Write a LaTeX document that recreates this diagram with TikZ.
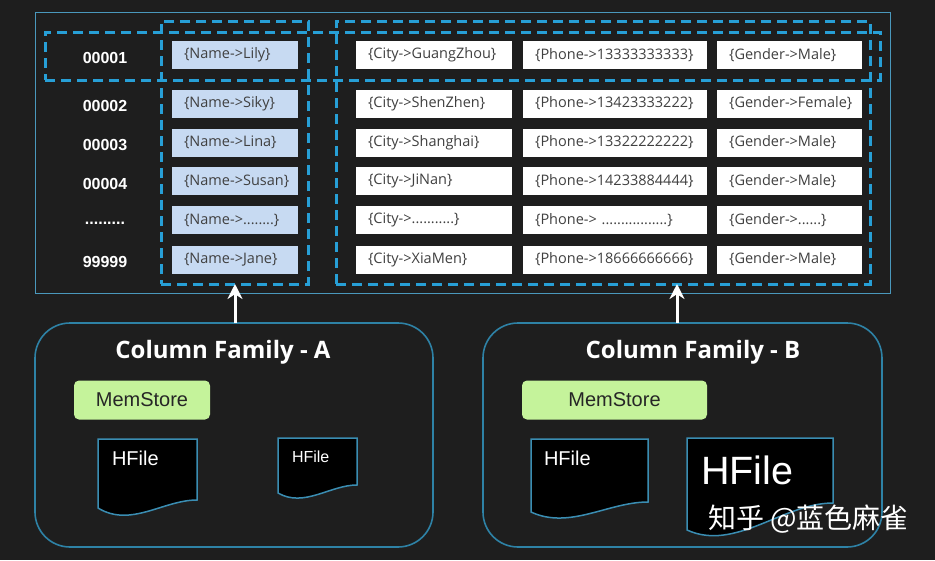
\documentclass[tikz,border=0pt]{standalone}
\usepackage{fontspec}
\setmainfont{Liberation Sans}
\newfontfamily\titlefont{Open Sans}
\newfontfamily\cellfont{Open Sans}
\newfontfamily\cjkfont{Noto Sans CJK SC}
\usetikzlibrary{arrows.meta}
\definecolor{bg}{HTML}{1E1E1E}
\definecolor{dashblue}{HTML}{279FD6}
\definecolor{framecol}{HTML}{4A98BC}
\definecolor{cfcol}{HTML}{2E82A6}
\definecolor{namefill}{HTML}{C7DAF2}
\definecolor{memgreen}{HTML}{C5F39B}
\definecolor{celltext}{HTML}{404040}
\definecolor{hfileborder}{HTML}{3A8DB2}
\newcommand\fs[1]{\fontsize{#1}{#1}\selectfont}
\newcommand\docpath[7]{% name, x1, ytop, x2, yright, yleft, ctrl
  \draw[hfilebox] (#2,#3) -- (#4,#3) -- (#4,#5)
    .. controls ({#2+0.66*(#4-#2)},#5) and ({#2+0.33*(#4-#2)},#7) .. (#2,#6) -- cycle;
  \coordinate (#1) at (#2,#3);}
\begin{document}
\begin{tikzpicture}[x=1pt,y=-1pt,
  every node/.style={inner sep=0pt, outer sep=0pt},
  key/.style={text=white, font=\fs{16}\bfseries},
  cell/.style={minimum height=28pt, anchor=west, inner xsep=12pt, text=celltext,
    font=\cellfont\fs{14.5}, align=left},
  namecell/.style={cell, fill=namefill, text width=102pt},
  citycell/.style={cell, fill=white, text width=132pt},
  phonecell/.style={cell, fill=white, text width=160pt},
  gendercell/.style={cell, fill=white, text width=121pt},
  dashbox/.style={draw=dashblue, line width=3pt, dash pattern=on 10pt off 6pt, rectangle},
  tableframe/.style={draw=framecol, line width=1pt, rectangle},
  cfbox/.style={draw=cfcol, line width=1.6pt, rounded corners=35pt, rectangle},
  cftitle/.style={text=white, font=\titlefont\bfseries\fs{24}},
  memstore/.style={fill=memgreen, rounded corners=5pt, minimum height=39pt,
    text=black!85, font=\fs{20}},
  hfilebox/.style={draw=hfileborder, line width=1.5pt, fill=black},
  hfiletext/.style={text=white, anchor=west},
  arr/.style={draw=white, line width=3pt, -{Stealth[length=15pt,width=15pt]}},
]
\fill[bg] (0,0) rectangle (935,560);
\useasboundingbox (0,0) rectangle (935,560);

% table frame
\node[tableframe, minimum width=855pt, minimum height=281pt] (table) at (462.5,152.5) {};

% row keys
\node[key] (k1) at (105,58) {00001};
\node[key] (k2) at (105,106) {00002};
\node[key] (k3) at (105,145) {00003};
\node[key] (k4) at (105,184) {00004};
\node[key] (k5) at (105,223) {.........};
\node[key] (k6) at (105,262) {99999};

% name cells
\node[namecell] (n1) at (172,55) {\mbox{\{Name->Lily\}}};
\node[namecell] (n2) at (172,103.5) {\mbox{\{Name->Siky\}}};
\node[namecell] (n3) at (172,142.5) {\mbox{\{Name->Lina\}}};
\node[namecell] (n4) at (172,181) {\mbox{\{Name->Susan\}}};
\node[namecell] (n5) at (172,220) {\mbox{\{Name->........\}}};
\node[namecell] (n6) at (172,259.5) {\mbox{\{Name->Jane\}}};

% city cells
\node[citycell] (c1) at (356,55) {\mbox{\{City->GuangZhou\}}};
\node[citycell] (c2) at (356,103.5) {\mbox{\{City->ShenZhen\}}};
\node[citycell] (c3) at (356,142.5) {\mbox{\{City->Shanghai\}}};
\node[citycell] (c4) at (356,181) {\mbox{\{City->JiNan\}}};
\node[citycell] (c5) at (356,220) {\mbox{\{City->...........\}}};
\node[citycell] (c6) at (356,259.5) {\mbox{\{City->XiaMen\}}};

% phone cells
\node[phonecell] (p1) at (523,55) {\mbox{\{Phone->13333333333\}}};
\node[phonecell] (p2) at (523,103.5) {\mbox{\{Phone->13423333222\}}};
\node[phonecell] (p3) at (523,142.5) {\mbox{\{Phone->13322222222\}}};
\node[phonecell] (p4) at (523,181) {\mbox{\{Phone->14233884444\}}};
\node[phonecell] (p5) at (523,220) {\mbox{\{Phone-> .................\}}};
\node[phonecell] (p6) at (523,259.5) {\mbox{\{Phone->18666666666\}}};

% gender cells
\node[gendercell] (g1) at (717,55) {\mbox{\{Gender->Male\}}};
\node[gendercell] (g2) at (717,103.5) {\mbox{\{Gender->Female\}}};
\node[gendercell] (g3) at (717,142.5) {\mbox{\{Gender->Male\}}};
\node[gendercell] (g4) at (717,181) {\mbox{\{Gender->Male\}}};
\node[gendercell] (g5) at (717,220) {\mbox{\{Gender->......\}}};
\node[gendercell] (g6) at (717,259.5) {\mbox{\{Gender->Male\}}};

% dashed groupings
\node[dashbox, minimum width=147pt, minimum height=263pt] (namecol) at (234.5,152.5) {};
\node[dashbox, minimum width=534pt, minimum height=263pt] (restcol) at (603,152.5) {};
\node[dashbox, minimum width=835pt, minimum height=48pt] (row1) at (462.5,56) {};

% column families
\node[cfbox, minimum width=398pt, minimum height=224pt] (cfA) at (234,435) {};
\node[cfbox, minimum width=399pt, minimum height=224pt] (cfB) at (682.5,435) {};
\node[cftitle] (tA) at (223,352) {Column Family - A};
\node[cftitle] (tB) at (693,352) {Column Family - B};

\node[memstore, minimum width=136pt] (memA) at (142,400) {MemStore};
\node[memstore, minimum width=185pt] (memB) at (614.5,400) {MemStore};

% HFiles
\docpath{hA1}{98}{439}{197}{500}{508}{528}
\docpath{hA2}{278}{438}{357}{485}{493}{508}
\docpath{hB1}{531}{439}{648}{502}{512}{530}
\docpath{hB2}{687}{438}{833}{503}{530}{552}
\node[hfiletext, font=\fs{20}] (hA1t) at (112,458) {HFile};
\node[hfiletext, font=\fs{16}] (hA2t) at (292,457) {HFile};
\node[hfiletext, font=\fs{20}] (hB1t) at (544,458) {HFile};
\node[hfiletext, font=\fs{39.5}] (hB2t) at (701,470) {HFile};

% arrows
\coordinate (aA) at (235,323);
\coordinate (aB) at (677,323);
\draw[arr] (aA) -- (aA |- namecol.south);
\draw[arr] (aB) -- (aB |- restcol.south);

% watermark
\node[text=white, anchor=west, font=\cjkfont\fs{28}] (wm) at (708,519) {知乎 @蓝色麻雀};
\end{tikzpicture}
\end{document}
